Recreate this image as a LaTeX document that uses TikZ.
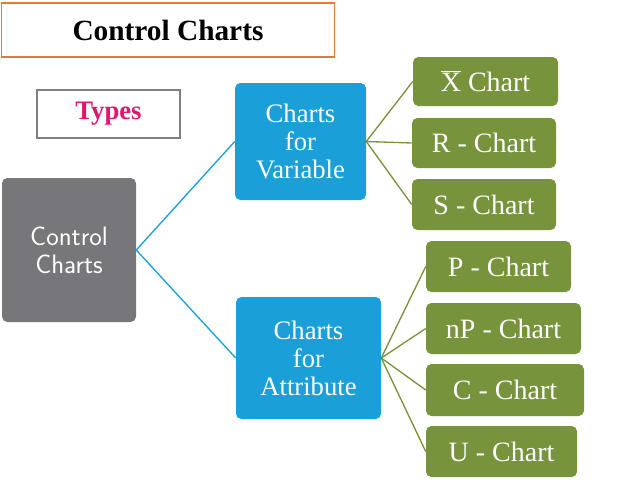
\documentclass[tikz,border=0pt]{standalone}
\usepackage{fontspec}
\setmainfont{Liberation Serif}
\definecolor{gbox}{HTML}{77933C}
\definecolor{bbox}{HTML}{1A9FD8}
\definecolor{kbox}{HTML}{77777B}
\definecolor{tborder}{HTML}{E07B39}
\definecolor{mag}{HTML}{E0156E}
\begin{document}
\begin{tikzpicture}[x=0.75pt,y=-0.75pt,
  box/.style={rounded corners=4pt,text=white,align=center,inner sep=0pt,font=\fontsize{21}{21}\selectfont},
  gb/.style={box,fill=gbox},
  bb/.style={box,fill=bbox,font=\fontsize{20}{21}\selectfont},
  gl/.style={draw=gbox,line width=1pt},
  bl/.style={draw=bbox,line width=1pt}]
\useasboundingbox (0,0) rectangle (638,479);
\node[draw=tborder,line width=1.2pt,minimum width=333pt*0.75,minimum height=54*0.75pt,inner sep=0pt,font=\fontsize{22}{22}\selectfont\bfseries] (title) at (168,30) {Control Charts};
\node[draw=gray,line width=1pt,minimum width=143*0.75pt,minimum height=48*0.75pt,inner sep=0pt,text=mag,font=\fontsize{20}{20}\selectfont\bfseries] (types) at (108.5,114) {Types};
\node[box,fill=kbox,minimum width=134*0.75pt,minimum height=144*0.75pt,font=\sffamily\fontsize{20}{21}\selectfont] (cc) at (69,250) {Control\\Charts};
\node[bb,minimum width=131*0.75pt,minimum height=117*0.75pt] (var) at (300.5,141.5) {Charts\\for\\Variable};
\node[bb,minimum width=145*0.75pt,minimum height=122*0.75pt] (att) at (308.5,358) {Charts\\for\\Attribute};
\node[gb,minimum width=145*0.75pt,minimum height=49*0.75pt] (x) at (485.5,81.5) {$\overline{\mbox{X}}$ Chart};
\node[gb,minimum width=144*0.75pt,minimum height=50*0.75pt] (r) at (484,143) {R - Chart};
\node[gb,minimum width=144*0.75pt,minimum height=51*0.75pt] (s) at (484,204.5) {S - Chart};
\node[gb,minimum width=145*0.75pt,minimum height=51*0.75pt] (p) at (498.5,266.5) {P - Chart};
\node[gb,minimum width=155*0.75pt,minimum height=51*0.75pt] (np) at (503.5,328.5) {nP - Chart};
\node[gb,minimum width=158*0.75pt,minimum height=52*0.75pt] (c) at (505,390) {C - Chart};
\node[gb,minimum width=151*0.75pt,minimum height=51*0.75pt] (u) at (501.5,451.5) {U - Chart};
\draw[bl] (cc.east) -- (var.west);
\draw[bl] (cc.east) -- (att.west);
\foreach \n in {x,r,s} \draw[gl] (var.east) -- (\n.west);
\foreach \n in {p,np,c,u} \draw[gl] (att.east) -- (\n.west);
\end{tikzpicture}
\end{document}
